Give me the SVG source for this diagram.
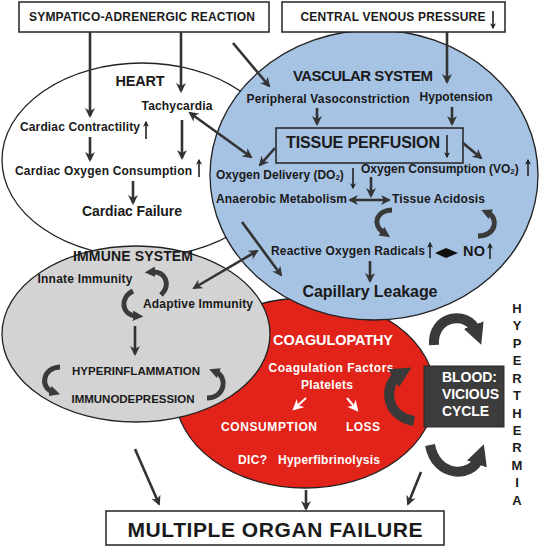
<svg xmlns="http://www.w3.org/2000/svg" width="540" height="546" viewBox="0 0 540 546">
<defs>
<style>
.t{font-family:"Liberation Sans",Arial,sans-serif;font-weight:bold;fill:#1a1a1a}
.w{fill:#fff}
.c{text-anchor:middle}
.ln{stroke:#333;stroke-width:2.6;fill:none}
.sm{stroke:#222;stroke-width:1.6;fill:none}
.thk{stroke:#3a3a3a;fill:none}
.box{fill:#fff;stroke:#222;stroke-width:1.5}
</style>
<marker id="ah" viewBox="0 0 10 10" refX="8" refY="5" markerWidth="10" markerHeight="10" markerUnits="userSpaceOnUse" orient="auto-start-reverse"><path d="M0,0 L10,5 L0,10 L3,5 z" fill="#333"/></marker>
<marker id="as" viewBox="0 0 10 10" refX="8" refY="5" markerWidth="6" markerHeight="6" markerUnits="userSpaceOnUse" orient="auto"><path d="M0,0 L10,5 L0,10 L3,5 z" fill="#222"/></marker>
<marker id="aw" viewBox="0 0 10 10" refX="8" refY="5" markerWidth="11" markerHeight="11" markerUnits="userSpaceOnUse" orient="auto"><path d="M0,0 L10,5 L0,10 L3,5 z" fill="#fff"/></marker>
<marker id="ak" viewBox="0 0 10 10" refX="3" refY="5" markerWidth="2.1" markerHeight="2.1" markerUnits="strokeWidth" orient="auto"><path d="M0,0 L10,5 L0,10 z" fill="#3a3a3a"/></marker>
</defs>
<rect width="540" height="546" fill="#fff"/>

<g id="heart">
<ellipse cx="142" cy="160" rx="140" ry="97" fill="#fff" stroke="#222" stroke-width="1.3"/>
<text class="t c" x="140" y="86" font-size="14.5" textLength="49">HEART</text>
<text class="t c" x="177" y="110" font-size="12" textLength="71">Tachycardia</text>
<text class="t" x="20" y="131" font-size="12" textLength="120">Cardiac Contractility</text>
<text class="t" x="15" y="175" font-size="12" textLength="177">Cardiac Oxygen Consumption</text>
<text class="t c" x="132" y="216" font-size="14" textLength="100">Cardiac Failure</text>
</g>

<g id="coagulopathy">
<ellipse cx="305" cy="393" rx="130" ry="95" fill="#e2231a" stroke="#222" stroke-width="1.3"/>
<text class="t w c" x="333" y="345" font-size="14.5" textLength="120">COAGULOPATHY</text>
<text class="t w c" x="331" y="372" font-size="12" textLength="125">Coagulation Factors</text>
<text class="t w c" x="327" y="389" font-size="12" textLength="52">Platelets</text>
<text class="t w c" x="269" y="431" font-size="12" textLength="96">CONSUMPTION</text>
<text class="t w c" x="363" y="431" font-size="12" textLength="34">LOSS</text>
<text class="t w" x="238" y="464" font-size="12" textLength="29">DIC?</text>
<text class="t w" x="278" y="464" font-size="12" textLength="102">Hyperfibrinolysis</text>
<line x1="306" y1="398" x2="294" y2="409" stroke="#fff" stroke-width="2" marker-end="url(#aw)"/>
<line x1="347" y1="398" x2="357" y2="410" stroke="#fff" stroke-width="2" marker-end="url(#aw)"/>
</g>

<g id="immune">
<ellipse cx="136" cy="334" rx="134" ry="88" fill="#d3d3d3" stroke="#222" stroke-width="1.3"/>
<text class="t c" x="133" y="261" font-size="14" textLength="120">IMMUNE SYSTEM</text>
<text class="t c" x="85" y="283" font-size="12" textLength="95">Innate Immunity</text>
<text class="t c" x="198" y="308" font-size="12" textLength="110">Adaptive Immunity</text>
<text class="t c" x="136" y="375" font-size="11.5" textLength="128">HYPERINFLAMMATION</text>
<text class="t c" x="133" y="403" font-size="11.5" textLength="123">IMMUNODEPRESSION</text>
<path class="thk" stroke-width="5" d="M161,295 C171,285 166,271 152,272" marker-end="url(#ak)"/>
<path class="thk" stroke-width="5" d="M133,291 C119,298 122,315 136,316" marker-end="url(#ak)"/>
<path class="thk" stroke-width="5" d="M60,367 C42,368 40,388 53,392" marker-end="url(#ak)"/>
<path class="thk" stroke-width="5" d="M207,398 C225,398 228,377 216,372" marker-end="url(#ak)"/>
</g>

<g id="vascular">
<ellipse cx="374" cy="175" rx="164" ry="145" fill="#a6c3e4" stroke="#222" stroke-width="1.3"/>
<text class="t c" x="363" y="81" font-size="15" textLength="140">VASCULAR SYSTEM</text>
<text class="t c" x="328" y="103" font-size="12" textLength="163">Peripheral Vasoconstriction</text>
<text class="t c" x="456" y="101" font-size="12" textLength="73">Hypotension</text>
<text class="t" x="216" y="179" font-size="12">Oxygen Delivery (DO<tspan font-size="8" dy="1">2</tspan><tspan dy="-1">)</tspan></text>
<text class="t" x="361" y="173" font-size="12">Oxygen Consumption (VO<tspan font-size="8" dy="1">2</tspan><tspan dy="-1">)</tspan></text>
<text class="t" x="216" y="203" font-size="12" textLength="131">Anaerobic Metabolism</text>
<text class="t" x="392" y="203" font-size="12" textLength="93">Tissue Acidosis</text>
<text class="t" x="271" y="255" font-size="12" textLength="154">Reactive Oxygen Radicals</text>
<text class="t" x="463" y="256" font-size="14.5" textLength="22">NO</text>
<path d="M435,253 L446,248 L458,253 L446,258 z" fill="#111"/>
<text class="t c" x="370" y="297" font-size="16" textLength="135">Capillary Leakage</text>
<path class="thk" stroke-width="5" d="M392,210 C377,210 371,224 384,233" marker-end="url(#ak)"/>
<path class="thk" stroke-width="5" d="M478,236 C496,236 499,218 488,213" marker-end="url(#ak)"/>
</g>

<g id="tissue-perfusion">
<rect x="276" y="128" width="187" height="35" fill="none" stroke="#222" stroke-width="1.5"/>
<text class="t c" x="363" y="148" font-size="16" textLength="154">TISSUE PERFUSION</text>
</g>

<g id="sympatico">
<rect class="box" x="19" y="2" width="250" height="30"/>
<text class="t c" x="142" y="21" font-size="12" textLength="226">SYMPATICO-ADRENERGIC REACTION</text>
</g>

<g id="cvp">
<rect class="box" x="282" y="2" width="223" height="30"/>
<text class="t c" x="393" y="21" font-size="12" textLength="185">CENTRAL VENOUS PRESSURE</text>
</g>

<g id="blood">
<rect x="424" y="366" width="80" height="61" fill="#3c3c3c" stroke="#2a2a2a" stroke-width="1"/>
<text class="t w" x="442" y="382" font-size="14" textLength="55">BLOOD:</text>
<text class="t w" x="442" y="399" font-size="14" textLength="57">VICIOUS</text>
<text class="t w" x="442" y="416" font-size="14" textLength="47">CYCLE</text>
</g>

<g id="hyperthermia">
<text class="t c" x="517" y="313" font-size="13">H</text>
<text class="t c" x="517" y="330" font-size="13">Y</text>
<text class="t c" x="517" y="348" font-size="13">P</text>
<text class="t c" x="517" y="365" font-size="13">E</text>
<text class="t c" x="517" y="383" font-size="13">R</text>
<text class="t c" x="517" y="400" font-size="13">T</text>
<text class="t c" x="517" y="418" font-size="13">H</text>
<text class="t c" x="517" y="435" font-size="13">E</text>
<text class="t c" x="517" y="452" font-size="13">R</text>
<text class="t c" x="517" y="470" font-size="13">M</text>
<text class="t c" x="517" y="487" font-size="13">I</text>
<text class="t c" x="517" y="505" font-size="13">A</text>
</g>

<g id="mof">
<rect class="box" x="106" y="511" width="338" height="34"/>
<text class="t c" x="275" y="537" font-size="21" textLength="295">MULTIPLE ORGAN FAILURE</text>
</g>

<g id="connectors">
<line class="ln" x1="90" y1="32" x2="90" y2="116" marker-end="url(#ah)"/>
<line class="ln" x1="181" y1="32" x2="181" y2="91" marker-end="url(#ah)"/>
<line class="ln" x1="233" y1="43" x2="269" y2="86" marker-end="url(#ah)"/>
<line class="ln" x1="447" y1="32" x2="447" y2="82" marker-end="url(#ah)"/>
<line class="ln" x1="317" y1="108" x2="317" y2="124" marker-end="url(#ah)"/>
<line class="ln" x1="452" y1="107" x2="452" y2="124" marker-end="url(#ah)"/>
<line class="ln" x1="190" y1="113" x2="251" y2="157" marker-start="url(#ah)" marker-end="url(#ah)"/>
<line class="ln" x1="182" y1="120" x2="182" y2="158" marker-end="url(#ah)"/>
<line class="ln" x1="90" y1="137" x2="90" y2="160" marker-end="url(#ah)"/>
<line class="ln" x1="133" y1="181" x2="133" y2="203" marker-end="url(#ah)"/>
<line class="ln" x1="275" y1="148" x2="260" y2="165" marker-end="url(#ah)"/>
<line class="ln" x1="463" y1="143" x2="481" y2="158" marker-end="url(#ah)"/>
<line class="ln" x1="371" y1="177" x2="371" y2="196" marker-end="url(#ah)"/>
<line class="ln" x1="350" y1="200" x2="389" y2="200" marker-start="url(#ah)" marker-end="url(#ah)"/>
<line class="ln" x1="370" y1="261" x2="370" y2="281" marker-end="url(#ah)"/>
<line class="ln" x1="242" y1="222" x2="281" y2="275" marker-end="url(#ah)"/>
<line class="ln" x1="194" y1="288" x2="257" y2="251" marker-start="url(#ah)" marker-end="url(#ah)"/>
<line class="ln" x1="135" y1="326" x2="135" y2="354" marker-end="url(#ah)"/>
<line class="ln" x1="135" y1="449" x2="159" y2="504" marker-end="url(#ah)"/>
<line class="ln" x1="306" y1="490" x2="306" y2="509" marker-end="url(#ah)"/>
<line class="ln" x1="421" y1="472" x2="408" y2="504" marker-end="url(#ah)"/>
<line class="sm" x1="493" y1="11" x2="493" y2="28" marker-end="url(#as)"/>
<line class="sm" x1="146" y1="139" x2="146" y2="122" marker-end="url(#as)"/>
<line class="sm" x1="199" y1="177" x2="199" y2="160" marker-end="url(#as)"/>
<line class="sm" x1="447" y1="135" x2="447" y2="157" marker-end="url(#as)"/>
<line class="sm" x1="353" y1="168" x2="353" y2="188" marker-end="url(#as)"/>
<line class="sm" x1="528" y1="176" x2="528" y2="160" marker-end="url(#as)"/>
<line class="sm" x1="430" y1="258" x2="430" y2="243" marker-end="url(#as)"/>
<line class="sm" x1="490" y1="259" x2="490" y2="244" marker-end="url(#as)"/>
<path class="thk" stroke-width="10" d="M414,421 C384,416 384,384 399,375" marker-end="url(#ak)"/>
<path class="thk" stroke-width="10" d="M434,345 C432,315 468,310 476,331" marker-end="url(#ak)"/>
<path class="thk" stroke-width="10" d="M430,445 C436,478 472,478 479,458" marker-end="url(#ak)"/>
</g>
</svg>
